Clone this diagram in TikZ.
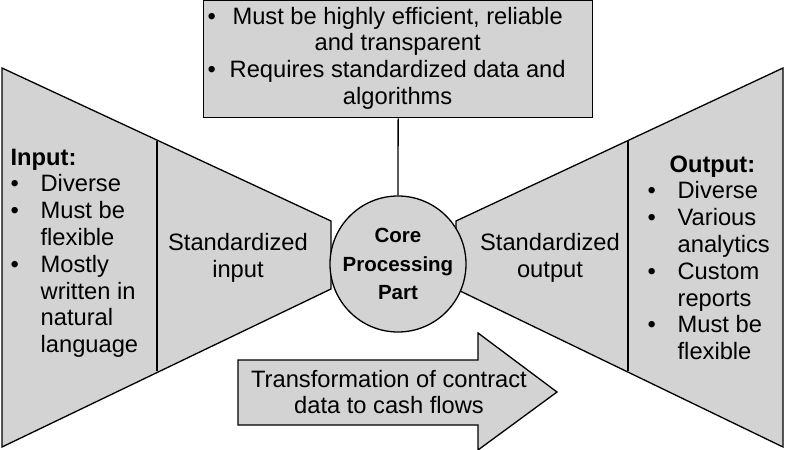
\documentclass[tikz,border=0pt]{standalone}
\usepackage{fontspec}
\setmainfont{Liberation Sans}
\usepackage{array}
\definecolor{fillg}{HTML}{D3D3D3}
\begin{document}
\begin{tikzpicture}[x=1pt,y=-1pt,line width=1.3pt,
  shp/.style={draw=black,fill=fillg,line join=miter},
  txt/.style={inner sep=0pt,font=\fontsize{23.7}{26.8}\selectfont},
  ctr/.style={txt,align=center}]
\useasboundingbox (0,0) rectangle (785,450);
\draw[shp] (2,68) -- (331,221) -- (331,289) -- (2,447) -- cycle;
\draw[shp] (783,68) -- (456,221) -- (456,289) -- (783,447) -- cycle;
\coordinate (l1) at (157,141); \coordinate (l2) at (157,371);
\draw (l1) -- (l2);
\coordinate (r1) at (628,141); \coordinate (r2) at (628,371);
\draw (r1) -- (r2);
\node[shp,minimum width=389pt,minimum height=117pt,anchor=north west,inner sep=0pt] (top) at (203,0) {};
\node[circle,shp,minimum size=136pt,inner sep=0pt] (core) at (398,264) {};
\draw (top.south) -- (core.north);
\node[ctr,font=\fontsize{20.5}{28.5}\selectfont\bfseries] at (core) {Core\\Processing\\Part};
\draw[shp] (238,360) -- (478,360) -- (478,333) -- (557,392) -- (478,450) -- (478,425) -- (238,425) -- cycle;
\node[ctr] (arr) at (389,392) {Transformation of contract\\data to cash flows};
\node[ctr] (si) at (238,258) {Standardized\\input};
\node[ctr] (so) at (550,258) {Standardized\\output};
\node[txt,anchor=base west] (inp) at (10,165) {\begin{tabular}[t]{@{}p{30pt}@{}l@{}}
\multicolumn{2}{@{}l}{\textbf{Input:}}\\
\textbullet & Diverse\\
\textbullet & Must be\\
 & flexible\\
\textbullet & Mostly\\
 & written in\\
 & natural\\
 & language\end{tabular}};
\node[txt,anchor=base west] (out) at (647,172) {\begin{tabular}[t]{@{}p{30pt}@{}l@{}}
\multicolumn{2}{@{}l}{\hspace{22pt}\textbf{Output:}}\\
\textbullet & Diverse\\
\textbullet & Various\\
 & analytics\\
\textbullet & Custom\\
 & reports\\
\textbullet & Must be\\
 & flexible\end{tabular}};
\node[txt,anchor=base west] (tt) at (207,24) {\begin{tabular}[t]{@{}p{22pt}@{}c@{}}
\textbullet & Must be highly efficient, reliable\\
 & and transparent\\
\textbullet & Requires standardized data and\\
 & algorithms\end{tabular}};
\end{tikzpicture}
\end{document}
